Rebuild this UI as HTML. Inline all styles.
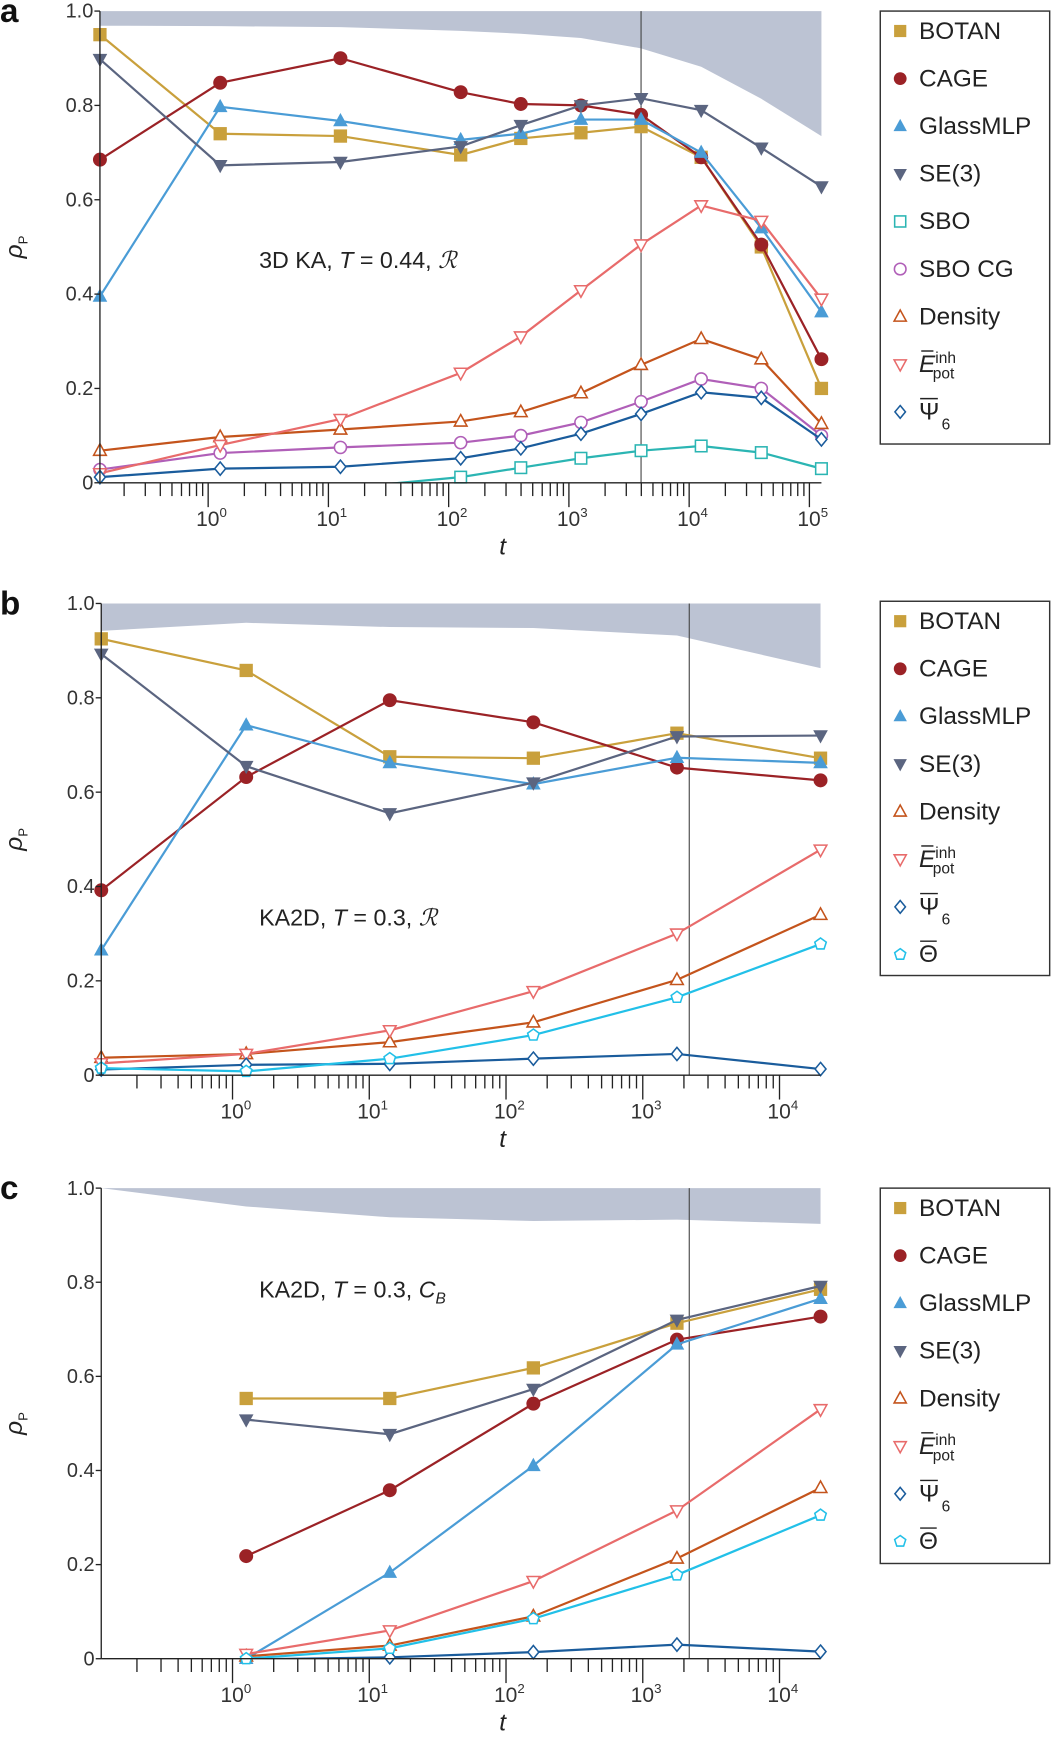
<!DOCTYPE html>
<html><head><meta charset="utf-8"><title>Pearson correlation vs time</title>
<style>
html,body{margin:0;padding:0;background:#fff;}
svg{display:block;font-family:"Liberation Sans",sans-serif;}
</style></head>
<body>
<svg id="fig" width="1053" height="1738" viewBox="0 0 951 1569.6" preserveAspectRatio="none" xmlns="http://www.w3.org/2000/svg"></svg>
<script>
// ---------- data ----------
const aLogT = [-0.9, 0.1, 1.1, 2.1, 2.6, 3.1, 3.6, 4.1, 4.6, 5.1];
const aBOTAN = [0.95, 0.74, 0.735, 0.695, 0.73, 0.742, 0.755, 0.69, 0.50, 0.20];
const aCAGE = [0.685, 0.848, 0.90, 0.828, 0.803, 0.80, 0.78, 0.69, 0.505, 0.262];
const aGlassMLP = [0.395, 0.797, 0.767, 0.727, 0.74, 0.77, 0.77, 0.70, 0.54, 0.362];
const aSE3 = [0.898, 0.673, 0.68, 0.713, 0.758, 0.80, 0.815, 0.79, 0.71, 0.628];
const aSBO = [null, null, -0.012, 0.012, 0.032, 0.052, 0.068, 0.078, 0.064, 0.03];
const aSBOCG = [0.028, 0.063, 0.075, 0.085, 0.10, 0.128, 0.172, 0.22, 0.20, 0.10];
const aDensity = [0.068, 0.097, 0.113, 0.13, 0.15, 0.19, 0.25, 0.305, 0.262, 0.125];
const aEpot = [0.02, 0.08, 0.135, 0.233, 0.31, 0.408, 0.505, 0.588, 0.555, 0.39];
const aPsi6 = [0.012, 0.03, 0.034, 0.052, 0.073, 0.104, 0.146, 0.192, 0.18, 0.092];
const aBandLow = [0.969, 0.968, 0.966, 0.958, 0.952, 0.943, 0.921, 0.882, 0.814, 0.735];

const bLogT = [-0.96, 0.1, 1.15, 2.2, 3.25, 4.3];
const bBOTAN = [0.925, 0.858, 0.675, 0.672, 0.725, 0.672];
const bCAGE = [0.392, 0.632, 0.795, 0.748, 0.652, 0.625];
const bGlassMLP = [0.265, 0.742, 0.662, 0.617, 0.673, 0.662];
const bSE3 = [0.893, 0.655, 0.555, 0.62, 0.718, 0.72];
const bDensity = [0.037, 0.045, 0.07, 0.112, 0.202, 0.34];
const bEpot = [0.025, 0.045, 0.095, 0.178, 0.30, 0.478];
const bPsi6 = [0.012, 0.022, 0.024, 0.035, 0.045, 0.013];
const bTheta = [0.015, 0.008, 0.035, 0.085, 0.165, 0.278];
const bBandLow = [0.942, 0.959, 0.95, 0.948, 0.932, 0.863];

const cLogT = [-0.96, 0.1, 1.15, 2.2, 3.25, 4.3];
const cBOTAN = [null, 0.553, 0.553, 0.618, 0.713, 0.785];
const cCAGE = [null, 0.218, 0.358, 0.542, 0.678, 0.727];
const cGlassMLP = [null, 0.0, 0.183, 0.41, 0.668, 0.765];
const cSE3 = [null, 0.508, 0.477, 0.573, 0.72, 0.792];
const cDensity = [null, 0.005, 0.028, 0.09, 0.213, 0.363];
const cEpot = [null, 0.01, 0.06, 0.165, 0.315, 0.53];
const cPsi6 = [null, -0.0015, 0.003, 0.014, 0.03, 0.015];
const cTheta = [null, 0.0, 0.022, 0.085, 0.178, 0.305];
const cBandLow = [1.0, 0.961, 0.938, 0.93, 0.933, 0.924];

const yTicks = [0, 0.2, 0.4, 0.6, 0.8, 1.0];
const yTickLabels = ["0", "0.2", "0.4", "0.6", "0.8", "1.0"];
const aDecades = [0, 1, 2, 3, 4, 5];
const bDecades = [0, 1, 2, 3, 4];
const aVLine = 3.6, bVLine = 3.34, cVLine = 3.34;

// ---------- styles ----------
const ST = {
  BOTAN:{c:'#c9a03c',m:'square',fill:true,label:'BOTAN'},
  CAGE:{c:'#9b2226',m:'circle',fill:true,label:'CAGE'},
  GlassMLP:{c:'#4a9cd6',m:'tri',fill:true,label:'GlassMLP'},
  SE3:{c:'#5b6580',m:'tridown',fill:true,label:'SE(3)'},
  SBO:{c:'#2bb5b3',m:'square',fill:false,label:'SBO'},
  SBOCG:{c:'#b05fb8',m:'circle',fill:false,label:'SBO CG'},
  Density:{c:'#c4541c',m:'tri',fill:false,label:'Density'},
  Epot:{c:'#e86b6b',m:'tridown',fill:false,label:'Epot'},
  Psi6:{c:'#1a5c9c',m:'diamond',fill:false,label:'Psi6'},
  Theta:{c:'#22c0e8',m:'pent',fill:false,label:'Theta'}
};
const NS='http://www.w3.org/2000/svg';
const svg=document.getElementById('fig');
function el(tag,attrs,parent){const e=document.createElementNS(NS,tag);for(const k in attrs)e.setAttribute(k,attrs[k]);(parent||svg).appendChild(e);return e;}

function marker(g,kind,x,y,color,fill,s){
  let e;
  const f=fill?color:'#fff';
  if(kind==='square'){e=el('rect',{x:x-s,y:y-s,width:2*s,height:2*s},g);}
  else if(kind==='circle'){e=el('circle',{cx:x,cy:y,r:s*1.05},g);}
  else if(kind==='tri'){e=el('polygon',{points:`${x},${y-s*1.2} ${x+s*1.1},${y+s*0.8} ${x-s*1.1},${y+s*0.8}`},g);}
  else if(kind==='tridown'){e=el('polygon',{points:`${x},${y+s*1.2} ${x+s*1.1},${y-s*0.8} ${x-s*1.1},${y-s*0.8}`},g);}
  else if(kind==='diamond'){e=el('polygon',{points:`${x},${y-s*1.15} ${x+s*0.95},${y} ${x},${y+s*1.15} ${x-s*0.95},${y}`},g);}
  else {let p=[];for(let i=0;i<5;i++){const a=-Math.PI/2+i*2*Math.PI/5;p.push((x+s*1.05*Math.cos(a)).toFixed(2)+','+(y+s*1.05*Math.sin(a)).toFixed(2));}e=el('polygon',{points:p.join(' ')},g);}
  e.setAttribute('fill',f);e.setAttribute('stroke',color);e.setAttribute('stroke-width',fill?0:1.4);
  return e;
}

function panel(o){
  const g=el('g',{});
  
  
  const X=v=>o.x0+o.dec*v, Y=v=>o.yZero-(o.yZero-o.yOne)*v;
  const left=X(o.logT[0]), right=X(o.logT[o.logT.length-1]);
  let d=`M${left},${Y(1)} L${right},${Y(1)} `;
  for(let i=o.logT.length-1;i>=0;i--) d+=`L${X(o.logT[i])},${Y(o.band[i])} `;
  const band=el('path',{d:d+'Z',fill:'#bcc3d3'},g);
  
  
  const vl=el('line',{x1:X(o.vline),x2:X(o.vline),y1:Y(1),y2:Y(0),stroke:'#444','stroke-width':1},g);
  
  
  const cp=el('clipPath',{id:'clip'+o.id},g);
  el('rect',{x:left-20,y:Y(1)-20,width:right-left+40,height:Y(0)-Y(1)+20},cp);
  o.series.forEach(([key,vals])=>{
    const st=ST[key];
    const sg=el('g',{},g);
    
    
    let pts=[];
    vals.forEach((v,i)=>{if(v!==null)pts.push([X(o.logT[i]),Y(v),v]);});
    el('polyline',{points:pts.map(p=>p[0]+','+p[1]).join(' '),fill:'none',stroke:st.c,'stroke-width':2,'clip-path':`url(#clip${o.id})`},sg);
    pts.forEach(p=>{if(p[2]>=0){const m=marker(sg,st.m,p[0],p[1],st.c,st.fill,st.fill?6:5.2);
      
      }});
  });
  const ax=el('g',{stroke:'#222','stroke-width':1.2},g);
  
  
  el('line',{x1:left,x2:left,y1:Y(1),y2:Y(0)},ax);
  el('line',{x1:left,x2:right,y1:Y(0),y2:Y(0)},ax);
  yTicks.forEach((t,i)=>{
    el('line',{x1:left-5,x2:left,y1:Y(t),y2:Y(t)},ax);
    const tx=el('text',{x:left-6,y:Y(t)+6,'text-anchor':'end','font-size':18,fill:'#333',stroke:'none'},g);
    tx.textContent=yTickLabels[i];
    
    
  });
  const lo=o.logT[0], hi=o.logT[o.logT.length-1];
  for(let dd=Math.floor(lo);dd<=Math.ceil(hi);dd++){
    for(let k=1;k<=9;k++){const lv=dd+Math.log10(k);if(lv<=lo+0.02||lv>hi)continue;
      el('line',{x1:X(lv),x2:X(lv),y1:Y(0),y2:Y(0)+(k===1?22:12)},ax);}
  }
  o.decades.forEach(dd=>{
    const tx=el('text',{x:X(dd)+3,y:Y(0)+39,'text-anchor':'middle','font-size':19,fill:'#333'},g);
    tx.textContent='10';
    const sp=el('tspan',{dy:-8,'font-size':12},tx);sp.textContent=String(dd);
    
    
  });
  const xl=el('text',{x:454,y:Y(0)+65,'text-anchor':'middle','font-size':22,'font-style':'italic',fill:'#222'},g);
  xl.textContent='t';
  
  
  const yc=(Y(0)+Y(1))/2;
  const yl=el('text',{x:0,y:0,transform:`translate(20,${yc}) rotate(-90)`,'text-anchor':'middle','font-size':22,'font-style':'italic',fill:'#222'},g);
  yl.textContent='ρ';
  const ys=el('tspan',{dy:5,'font-size':12,'font-style':'normal'},yl);ys.textContent='P';
  
  
  const pl=el('text',{x:0,y:Y(1)+10,'font-size':30,'font-weight':'bold',fill:'#111'},g);
  pl.textContent=o.id;
  
  
  const an=el('text',{x:234,y:o.annY,'font-size':21,fill:'#222'},g);
  an.innerHTML=o.ann;
  
  
  const lg=el('g',{},g);
  
  
  el('rect',{x:795,y:o.legTop,width:153,height:o.legH,fill:'#fff',stroke:'#333','stroke-width':1.3},lg);
  o.series.forEach(([key],i)=>{
    const st=ST[key];const yy=o.legTop+25+i*43;
    const le=el('g',{},lg);
    
    
    marker(le,st.m,813,yy-7,st.c,st.fill,st.fill?5.5:5);
    const t=el('text',{x:830,y:yy,'font-size':22,fill:'#222'},le);
    if(key==='Epot'){t.innerHTML='<tspan font-style="italic">E</tspan><tspan dy="-8" font-size="14">inh</tspan><tspan dx="-21" dy="14" font-size="14">pot</tspan>';
      el('line',{x1:832,x2:843,y1:yy-19,y2:yy-19,stroke:'#222','stroke-width':1.3},le);}
    else if(key==='Psi6'){t.innerHTML='Ψ<tspan dy="9" dx="2" font-size="14">6</tspan>';
      el('line',{x1:831,x2:847,y1:yy-19,y2:yy-19,stroke:'#222','stroke-width':1.3},le);}
    else if(key==='Theta'){t.textContent='Θ';
      el('line',{x1:831,x2:846,y1:yy-19,y2:yy-19,stroke:'#222','stroke-width':1.3},le);}
    else t.textContent=st.label;
  });
}

panel({id:'a',x0:188,dec:108.6,yZero:436,yOne:10,logT:aLogT,band:aBandLow,vline:aVLine,decades:aDecades,
  annY:242,ann:'3D KA, <tspan font-style="italic">T</tspan> = 0.44, <tspan font-family="DejaVu Serif" font-style="italic">ℛ</tspan>',
  legTop:10,legH:391,
  series:[['BOTAN',aBOTAN],['CAGE',aCAGE],['GlassMLP',aGlassMLP],['SE3',aSE3],['SBO',aSBO],['SBOCG',aSBOCG],['Density',aDensity],['Epot',aEpot],['Psi6',aPsi6]]});
panel({id:'b',x0:210,dec:123.5,yZero:971,yOne:545,logT:bLogT,band:bBandLow,vline:bVLine,decades:bDecades,
  annY:836,ann:'KA2D, <tspan font-style="italic">T</tspan> = 0.3, <tspan font-family="DejaVu Serif" font-style="italic">ℛ</tspan>',
  legTop:543,legH:338,
  series:[['BOTAN',bBOTAN],['CAGE',bCAGE],['GlassMLP',bGlassMLP],['SE3',bSE3],['Density',bDensity],['Epot',bEpot],['Psi6',bPsi6],['Theta',bTheta]]});
panel({id:'c',x0:210,dec:123.5,yZero:1498,yOne:1073,logT:cLogT,band:cBandLow,vline:cVLine,decades:bDecades,
  annY:1172,ann:'KA2D, <tspan font-style="italic">T</tspan> = 0.3, <tspan font-style="italic">C</tspan><tspan font-style="italic" font-size="14" dy="5">B</tspan>',
  legTop:1073,legH:339,
  series:[['BOTAN',cBOTAN],['CAGE',cCAGE],['GlassMLP',cGlassMLP],['SE3',cSE3],['Density',cDensity],['Epot',cEpot],['Psi6',cPsi6],['Theta',cTheta]]});
</script>
</body></html>
